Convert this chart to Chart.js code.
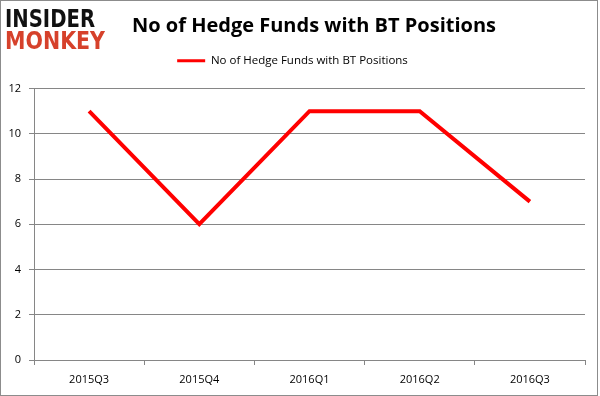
<!DOCTYPE html>
<html lang="en">
<head>
  <meta charset="UTF-8" />
  <title>No of Hedge Funds with BT Positions</title>
  <script src="https://cdn.jsdelivr.net/npm/chart.js"></script>
  <style>
    body {
      margin: 0;
      background: white;
    }
  </style>
</head>
<body>
  <canvas id="chart" width="600" height="396"></canvas>

  <script>
    const quarters = ['2015Q3', '2015Q4', '2016Q1', '2016Q2', '2016Q3'];
    const hedgeFunds = [11, 6, 11, 11, 7];
    const seriesName = 'No of Hedge Funds with BT Positions';
    const chartTitle = 'No of Hedge Funds with BT Positions';

    // logo, title and outer frame
    const decorations = {
      id: 'decorations',
      afterDraw(chart) {
        const ctx = chart.ctx;
        ctx.save();
        ctx.strokeStyle = '#8c8c8c';
        ctx.lineWidth = 1;
        ctx.strokeRect(0.5, 0.5, 597, 395);

        ctx.textBaseline = 'alphabetic';
        ctx.textAlign = 'left';
        ctx.font = 'bold 25px "DejaVu Sans"';
        ctx.fillStyle = '#111';
        ctx.fillText('INSIDER', 5, 27, 90);
        ctx.fillStyle = '#d6412b';
        ctx.fillText('MONKEY', 5, 49, 100);

        ctx.fillStyle = '#000';
        ctx.font = 'bold 20px "Open Sans"';
        ctx.textAlign = 'center';
        ctx.fillText(chartTitle, 314, 32);
        ctx.restore();
      }
    };

    new Chart(document.getElementById('chart'), {
      type: 'line',
      data: {
        labels: quarters,
        datasets: [{
          label: seriesName,
          data: hedgeFunds,
          borderColor: '#ff0000',
          backgroundColor: '#ff0000',
          borderWidth: 4,
          pointRadius: 0,
          tension: 0
        }]
      },
      options: {
        responsive: false,
        animation: false,
        layout: { padding: { top: 45, right: 15, left: 0, bottom: 0 } },
        plugins: {
          title: { display: false },
          // empty subtitle used as a gap between legend and plot
          subtitle: {
            display: true,
            text: '',
            weight: 500,
            padding: 0,
            font: { size: 12, lineHeight: 1 }
          },
          tooltip: { enabled: false },
          legend: {
            labels: {
              boxWidth: 28,
              boxHeight: 3,
              padding: 10,
              color: '#000',
              font: { family: 'Open Sans', size: 11.5 },
              generateLabels: chart =>
                Chart.defaults.plugins.legend.labels.generateLabels(chart)
                  .map(item => ({ ...item, lineWidth: 0 }))
            }
          }
        },
        scales: {
          x: {
            offset: true,
            grid: { offset: true, drawOnChartArea: false, color: '#868686', tickLength: 5 },
            border: { color: '#868686' },
            ticks: { color: '#000', font: { family: 'Open Sans', size: 11 }, padding: 8 },
            afterFit: s => { s.height = 36; }
          },
          y: {
            min: 0,
            max: 12,
            ticks: { stepSize: 2, color: '#000', font: { family: 'Open Sans', size: 11 }, padding: 8 },
            grid: { color: '#868686', tickLength: 5 },
            border: { color: '#868686' },
            afterFit: s => { s.width = 34; }
          }
        }
      },
      plugins: [decorations]
    });
  </script>
</body>
</html>
